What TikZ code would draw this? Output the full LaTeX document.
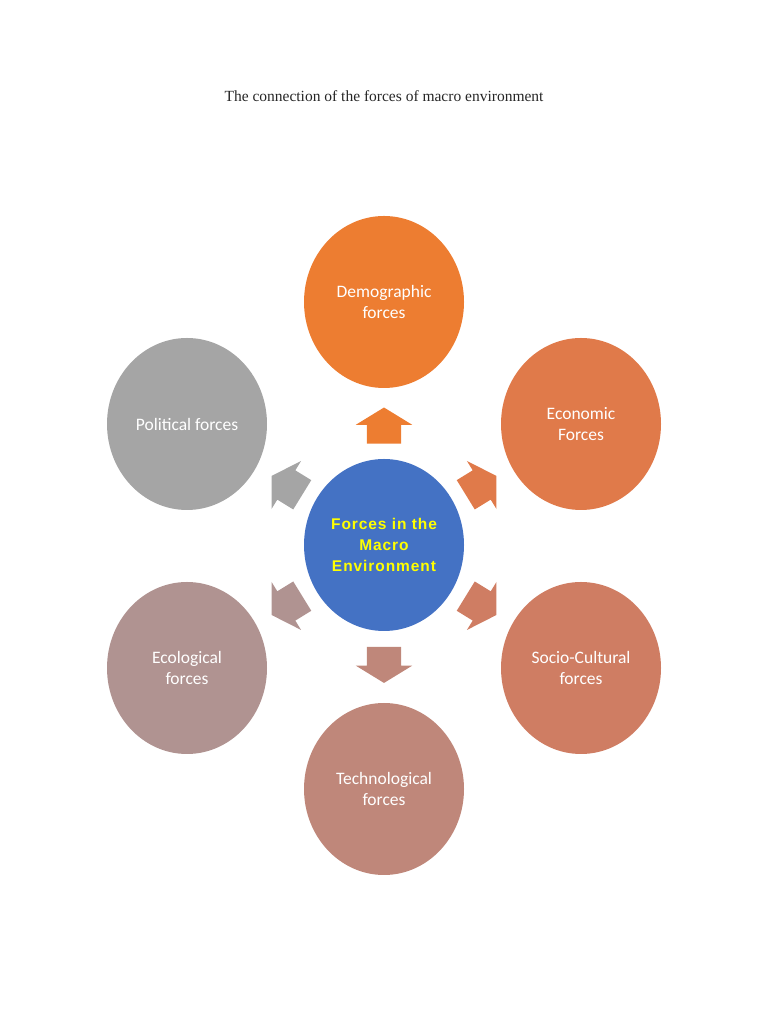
\documentclass[tikz,border=0pt]{standalone}
\usepackage{fontspec}
\setmainfont{Liberation Serif}
\newfontfamily\labelfont{Carlito}
\newfontfamily\hubfont[LetterSpace=6]{Liberation Sans}
\usepackage{xcolor}
\usepackage{tikz}
\usetikzlibrary{shapes.geometric,shapes.arrows,positioning,calc}

\definecolor{hubcol}{HTML}{4472C4}
\definecolor{demcol}{HTML}{ED7D31}
\definecolor{ecocol}{HTML}{E07A4A}
\definecolor{soccol}{HTML}{CF7D63}
\definecolor{teccol}{HTML}{BF877A}
\definecolor{ecolcol}{HTML}{B09391}
\definecolor{polcol}{HTML}{A5A5A5}
\definecolor{hubtext}{HTML}{FFFF00}

\tikzset{
  force/.style={ellipse, minimum width=160pt, minimum height=172pt, inner sep=0pt,
    text=white, align=center, font=\labelfont\fontsize{17.5}{21}\selectfont},
  hub/.style={force, fill=hubcol, text=hubtext,
    font=\hubfont\bfseries\fontsize{15.5}{21}\selectfont},
  blockarrow/.style={single arrow, minimum width=56pt, minimum height=36pt,
    single arrow head extend=11pt, single arrow tip angle=117,
    text height=0pt, text depth=0pt, inner xsep=0pt, inner ysep=17pt}
}

\begin{document}
\begin{tikzpicture}[x=1pt,y=1pt]
\useasboundingbox (0,0) rectangle (768,1024);
\node[font=\fontsize{15.5}{18}\selectfont, text=black!85] (title) at (384,928) {The connection of the forces of macro environment};

\node[hub] (hub) at (384,479) {Forces in the\\Macro\\Environment};
\node[force, fill=demcol] (dem) at (384,722) {Demographic\\forces};
\node[force, fill=ecocol] (eco) at (581,600) {Economic\\Forces};
\node[force, fill=soccol] (soc) at (581,356) {Socio-Cultural\\forces};
\node[force, fill=teccol] (tec) at (384,235) {Technological\\forces};
\node[force, fill=ecolcol] (ecol) at (187,356) {Ecological\\forces};
\node[force, fill=polcol] (pol) at (187,600) {Political forces};

% block arrows from the hub to each force
\node[blockarrow, fill=demcol, rotate=90] (a-dem) at ($(hub)!0.47!(dem)$) {};
\node[blockarrow, fill=ecocol, rotate=31.6] (a-eco) at ($(hub)!0.47!(eco)$) {};
\node[blockarrow, fill=soccol, rotate=-31.6] (a-soc) at ($(hub)!0.47!(soc)$) {};
\node[blockarrow, fill=teccol, rotate=-90] (a-tec) at ($(hub)!0.47!(tec)$) {};
\node[blockarrow, fill=ecolcol, rotate=211.6] (a-ecol) at ($(hub)!0.47!(ecol)$) {};
\node[blockarrow, fill=polcol, rotate=148.4] (a-pol) at ($(hub)!0.47!(pol)$) {};
\end{tikzpicture}
\end{document}
